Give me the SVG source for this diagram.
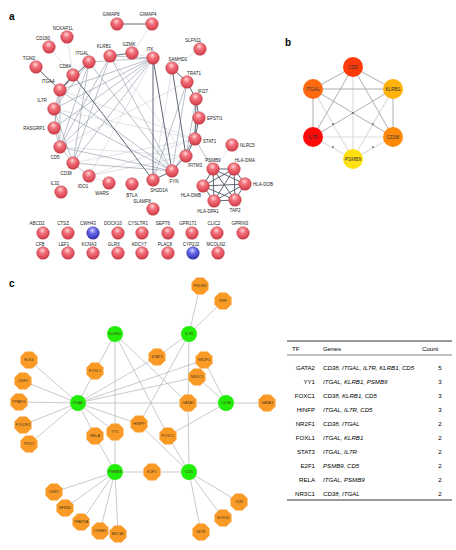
<svg xmlns="http://www.w3.org/2000/svg" xmlns:xlink="http://www.w3.org/1999/xlink" width="456" height="550" viewBox="0 0 456 550">
<style>
text{font-family:"Liberation Sans",Arial,sans-serif;}
.pl{font-size:10px;font-weight:bold;fill:#000;}
.la{font-size:4.5px;fill:#222;text-anchor:middle;}
.ls{font-size:4.5px;fill:#222;}
.ed{stroke:#4f5666;stroke-width:0.9;}
.em{stroke:#8d95a6;stroke-width:0.6;}
.el{stroke:#ccd0d8;stroke-width:0.6;}
.sp{fill:url(#gr);stroke:#b02a35;stroke-width:0.4;}
.sb{fill:url(#gb);stroke:#2a2a90;stroke-width:0.4;}
.bd{stroke:#9a9a9a;stroke-width:0.8;}
.bl{stroke:#dedede;stroke-width:1.2;}
.lb{font-size:4.8px;fill:#333;text-anchor:middle;}
.ce{stroke:#b3b3b3;stroke-width:0.7;}
.tf{fill:#f99a26;}
.gn{fill:#22ee0a;}
.lc{font-size:3.9px;fill:#4a3a1a;text-anchor:middle;}
.th{font-size:6.1px;fill:#000;}
.tg{font-size:6.1px;fill:#000;font-style:italic;}
.tt{font-size:6.1px;fill:#000;text-anchor:end;}
.tc{font-size:6.1px;fill:#000;text-anchor:middle;}
</style>
<defs>
<radialGradient id="gr" cx="0.45" cy="0.3" r="0.75">
<stop offset="0" stop-color="#ffd6d6"/>
<stop offset="0.35" stop-color="#f2707a"/>
<stop offset="1" stop-color="#cc3440"/>
</radialGradient>
<radialGradient id="gb" cx="0.45" cy="0.3" r="0.75">
<stop offset="0" stop-color="#d6d6ff"/>
<stop offset="0.35" stop-color="#6a6ae8"/>
<stop offset="1" stop-color="#2a2aa8"/>
</radialGradient>
<polygon id="oct" points="3.5,-8.5 8.5,-3.5 8.5,3.5 3.5,8.5 -3.5,8.5 -8.5,3.5 -8.5,-3.5 -3.5,-8.5"/>
</defs>
<rect width="456" height="550" fill="#fff"/>

<text class="pl" x="9" y="20">a</text>
<text class="pl" x="285" y="46">b</text>
<text class="pl" x="9" y="287">c</text>

<!-- Panel a connectors -->
<g id="edges-a">
<line class="el" x1="67" y1="37" x2="73" y2="75"/>
<line class="el" x1="49" y1="47" x2="73" y2="75"/>
<line class="el" x1="200" y1="49" x2="172" y2="68"/>
<line class="el" x1="232" y1="145" x2="213" y2="169"/>
<line class="el" x1="152" y1="24" x2="132" y2="53"/>
<line class="el" x1="89" y1="62" x2="73" y2="75"/>
<line class="el" x1="132" y1="53" x2="153" y2="58"/>
<line class="el" x1="89" y1="176" x2="195" y2="139"/>
<line class="el" x1="89" y1="176" x2="186" y2="156"/>
<line class="el" x1="89" y1="176" x2="109" y2="183"/>
<line class="el" x1="54" y1="109" x2="195" y2="139"/>
<line class="el" x1="73" y1="163" x2="195" y2="139"/>
<line class="el" x1="60" y1="147" x2="186" y2="156"/>
<line class="el" x1="110" y1="56" x2="186" y2="156"/>
<line class="el" x1="187" y1="82" x2="60" y2="147"/>
<line class="el" x1="153" y1="58" x2="89" y2="176"/>
<line class="el" x1="60" y1="90" x2="195" y2="139"/>
<line class="el" x1="172" y1="68" x2="153" y2="180"/>
<line class="em" x1="153" y1="58" x2="110" y2="56"/>
<line class="em" x1="153" y1="58" x2="89" y2="62"/>
<line class="em" x1="153" y1="58" x2="60" y2="90"/>
<line class="em" x1="153" y1="58" x2="54" y2="109"/>
<line class="em" x1="153" y1="58" x2="54" y2="128"/>
<line class="em" x1="153" y1="58" x2="60" y2="147"/>
<line class="em" x1="153" y1="58" x2="73" y2="163"/>
<line class="em" x1="172" y1="171" x2="60" y2="90"/>
<line class="em" x1="172" y1="171" x2="54" y2="109"/>
<line class="em" x1="172" y1="171" x2="60" y2="147"/>
<line class="em" x1="172" y1="171" x2="73" y2="163"/>
<line class="em" x1="172" y1="171" x2="89" y2="62"/>
<line class="em" x1="172" y1="171" x2="110" y2="56"/>
<line class="em" x1="187" y1="82" x2="172" y2="171"/>
<line class="em" x1="187" y1="82" x2="153" y2="180"/>
<line class="em" x1="195" y1="139" x2="213" y2="169"/>
<line class="em" x1="195" y1="139" x2="172" y2="171"/>
<line class="em" x1="196" y1="99" x2="186" y2="156"/>
<line class="em" x1="199" y1="118" x2="186" y2="156"/>
<line class="em" x1="110" y1="56" x2="60" y2="147"/>
<line class="em" x1="110" y1="56" x2="73" y2="163"/>
<line class="em" x1="89" y1="62" x2="60" y2="147"/>
<line class="em" x1="89" y1="62" x2="54" y2="109"/>
<line class="em" x1="89" y1="62" x2="73" y2="163"/>
<line class="em" x1="60" y1="90" x2="54" y2="109"/>
<line class="em" x1="60" y1="90" x2="60" y2="147"/>
<line class="em" x1="60" y1="90" x2="54" y2="128"/>
<line class="em" x1="54" y1="109" x2="60" y2="147"/>
<line class="em" x1="54" y1="109" x2="73" y2="163"/>
<line class="em" x1="54" y1="128" x2="60" y2="147"/>
<line class="em" x1="60" y1="147" x2="73" y2="163"/>
<line class="em" x1="73" y1="163" x2="89" y2="176"/>
<line class="ed" x1="117" y1="24" x2="152" y2="24"/>
<line class="ed" x1="110" y1="56" x2="132" y2="53"/>
<line class="ed" x1="36" y1="67" x2="60" y2="90"/>
<line class="ed" x1="60" y1="90" x2="73" y2="75"/>
<line class="ed" x1="60" y1="90" x2="89" y2="62"/>
<line class="ed" x1="153" y1="58" x2="153" y2="180"/>
<line class="ed" x1="153" y1="58" x2="172" y2="171"/>
<line class="ed" x1="172" y1="68" x2="186" y2="156"/>
<line class="ed" x1="172" y1="68" x2="187" y2="82"/>
<line class="ed" x1="187" y1="82" x2="196" y2="99"/>
<line class="ed" x1="196" y1="99" x2="199" y2="118"/>
<line class="ed" x1="196" y1="99" x2="195" y2="139"/>
<line class="ed" x1="199" y1="118" x2="195" y2="139"/>
<line class="ed" x1="195" y1="139" x2="186" y2="156"/>
<line class="ed" x1="186" y1="156" x2="172" y2="171"/>
<line class="ed" x1="172" y1="171" x2="153" y2="180"/>
<line class="ed" x1="73" y1="75" x2="153" y2="180"/>
<line class="ed" x1="213" y1="169" x2="234" y2="169"/>
<line class="ed" x1="213" y1="169" x2="203" y2="186"/>
<line class="ed" x1="213" y1="169" x2="245" y2="184"/>
<line class="ed" x1="213" y1="169" x2="214" y2="201"/>
<line class="ed" x1="213" y1="169" x2="235" y2="200"/>
<line class="ed" x1="234" y1="169" x2="245" y2="184"/>
<line class="ed" x1="234" y1="169" x2="203" y2="186"/>
<line class="ed" x1="234" y1="169" x2="214" y2="201"/>
<line class="ed" x1="234" y1="169" x2="235" y2="200"/>
<line class="ed" x1="245" y1="184" x2="203" y2="186"/>
<line class="ed" x1="245" y1="184" x2="235" y2="200"/>
<line class="ed" x1="245" y1="184" x2="214" y2="201"/>
<line class="ed" x1="203" y1="186" x2="214" y2="201"/>
<line class="ed" x1="203" y1="186" x2="235" y2="200"/>
<line class="ed" x1="214" y1="201" x2="235" y2="200"/>
</g>

<!-- Panel a nodes -->
<g id="a-GIMAP8"><circle class="sp" cx="117" cy="24" r="6.3"/><text class="la" x="111" y="16">GIMAP8</text></g>
<g id="a-GIMAP4"><circle class="sp" cx="152" cy="24" r="6.3"/><text class="la" x="148" y="16">GIMAP4</text></g>
<g id="a-NCKAP1L"><circle class="sp" cx="67" cy="37" r="6.3"/><text class="la" x="63" y="29.5">NCKAP1L</text></g>
<g id="a-CD180"><circle class="sp" cx="49" cy="47" r="6.3"/><text class="la" x="43" y="39.5">CD180</text></g>
<g id="a-KLRB1"><circle class="sp" cx="110" cy="56" r="6.3"/><text class="la" x="104" y="48">KLRB1</text></g>
<g id="a-GZMK"><circle class="sp" cx="132" cy="53" r="6.3"/><text class="la" x="129" y="46">GZMK</text></g>
<g id="a-ITK"><circle class="sp" cx="153" cy="58" r="6.3"/><text class="la" x="150" y="51">ITK</text></g>
<g id="a-SLFN11"><circle class="sp" cx="200" cy="49" r="6.3"/><text class="la" x="193" y="42">SLFN11</text></g>
<g id="a-SAMHD1"><circle class="sp" cx="172" cy="68" r="6.3"/><text class="la" x="178" y="60.5">SAMHD1</text></g>
<g id="a-TRAT1"><circle class="sp" cx="187" cy="82" r="6.3"/><text class="la" x="194" y="75">TRAT1</text></g>
<g id="a-IFI27"><circle class="sp" cx="196" cy="99" r="6.3"/><text class="la" x="203" y="93">IFI27</text></g>
<g id="a-EPSTI1"><circle class="sp" cx="199" cy="118" r="6.3"/><text class="ls" x="207" y="120">EPSTI1</text></g>
<g id="a-ITGAL"><circle class="sp" cx="89" cy="62" r="6.3"/><text class="la" x="82" y="55">ITGAL</text></g>
<g id="a-TGM2"><circle class="sp" cx="36" cy="67" r="6.3"/><text class="la" x="29" y="59.5">TGM2</text></g>
<g id="a-CD84"><circle class="sp" cx="73" cy="75" r="6.3"/><text class="la" x="65" y="67.5">CD84</text></g>
<g id="a-ITGA4"><circle class="sp" cx="60" cy="90" r="6.3"/><text class="la" x="48" y="83">ITGA4</text></g>
<g id="a-IL7R"><circle class="sp" cx="54" cy="109" r="6.3"/><text class="la" x="42" y="101.5">IL7R</text></g>
<g id="a-RASGRP1"><circle class="sp" cx="54" cy="128" r="6.3"/><text class="la" x="34" y="130">RASGRP1</text></g>
<g id="a-CD5"><circle class="sp" cx="60" cy="147" r="6.3"/><text class="la" x="55" y="159">CD5</text></g>
<g id="a-CD38"><circle class="sp" cx="73" cy="163" r="6.3"/><text class="la" x="66" y="175">CD38</text></g>
<g id="a-IDO1"><circle class="sp" cx="89" cy="176" r="6.3"/><text class="la" x="83" y="188">IDO1</text></g>
<g id="a-IL32"><circle class="sp" cx="61" cy="192" r="6.3"/><text class="la" x="55" y="185">IL32</text></g>
<g id="a-WARS"><circle class="sp" cx="109" cy="183" r="6.3"/><text class="la" x="102" y="194.5">WARS</text></g>
<g id="a-BTLA"><circle class="sp" cx="132" cy="184" r="6.3"/><text class="la" x="132" y="196.5">BTLA</text></g>
<g id="a-STAT1"><circle class="sp" cx="195" cy="139" r="6.3"/><text class="ls" x="203" y="143">STAT1</text></g>
<g id="a-NLRC5"><circle class="sp" cx="232" cy="145" r="6.3"/><text class="ls" x="240" y="147">NLRC5</text></g>
<g id="a-IFITM3"><circle class="sp" cx="186" cy="156" r="6.3"/><text class="la" x="195" y="167">IFITM3</text></g>
<g id="a-FYN"><circle class="sp" cx="172" cy="171" r="6.3"/><text class="la" x="174" y="182.5">FYN</text></g>
<g id="a-SH2D1A"><circle class="sp" cx="153" cy="180" r="6.3"/><text class="la" x="159" y="192">SH2D1A</text></g>
<g id="a-SLAMF8"><circle class="sp" cx="153" cy="209" r="6.3"/><text class="la" x="142" y="203">SLAMF8</text></g>
<g id="a-PSMB9"><circle class="sp" cx="213" cy="169" r="6.3"/><text class="la" x="213" y="162">PSMB9</text></g>
<g id="a-HLA-DMA"><circle class="sp" cx="234" cy="169" r="6.3"/><text class="la" x="245" y="162">HLA-DMA</text></g>
<g id="a-HLA-DOB"><circle class="sp" cx="245" cy="184" r="6.3"/><text class="ls" x="253" y="186">HLA-DOB</text></g>
<g id="a-HLA-DMB"><circle class="sp" cx="203" cy="186" r="6.3"/><text class="la" x="191" y="197">HLA-DMB</text></g>
<g id="a-HLA-DPA1"><circle class="sp" cx="214" cy="201" r="6.3"/><text class="la" x="208" y="213">HLA-DPA1</text></g>
<g id="a-TAP2"><circle class="sp" cx="235" cy="200" r="6.3"/><text class="la" x="235" y="212">TAP2</text></g>

<g id="a-ABCD2"><circle class="sp" cx="43" cy="233" r="6.3"/><text class="la" x="37" y="224.5">ABCD2</text></g>
<g id="a-CTSZ"><circle class="sp" cx="68" cy="233" r="6.3"/><text class="la" x="63" y="224.5">CTSZ</text></g>
<g id="a-CWH43"><circle class="sb" cx="93" cy="233" r="6.3"/><text class="la" x="88" y="224.5">CWH43</text></g>
<g id="a-DOCK10"><circle class="sp" cx="118" cy="233" r="6.3"/><text class="la" x="113" y="224.5">DOCK10</text></g>
<g id="a-CYSLTR1"><circle class="sp" cx="142" cy="233" r="6.3"/><text class="la" x="138" y="224.5">CYSLTR1</text></g>
<g id="a-SEPT6"><circle class="sp" cx="168" cy="233" r="6.3"/><text class="la" x="163" y="224.5">SEPT6</text></g>
<g id="a-GPR171"><circle class="sp" cx="192" cy="233" r="6.3"/><text class="la" x="188" y="224.5">GPR171</text></g>
<g id="a-CLIC2"><circle class="sp" cx="217" cy="233" r="6.3"/><text class="la" x="214" y="224.5">CLIC2</text></g>
<g id="a-GPRIN3"><circle class="sp" cx="243" cy="233" r="6.3"/><text class="la" x="240" y="224.5">GPRIN3</text></g>
<g id="a-CFB"><circle class="sp" cx="43" cy="253" r="6.3"/><text class="la" x="40" y="246">CFB</text></g>
<g id="a-LEF1"><circle class="sp" cx="68" cy="253" r="6.3"/><text class="la" x="64" y="246">LEF1</text></g>
<g id="a-KCNA3"><circle class="sp" cx="93" cy="253" r="6.3"/><text class="la" x="89" y="246">KCNA3</text></g>
<g id="a-GLRX"><circle class="sp" cx="118" cy="253" r="6.3"/><text class="la" x="114" y="246">GLRX</text></g>
<g id="a-ADCY7"><circle class="sp" cx="142" cy="253" r="6.3"/><text class="la" x="139" y="246">ADCY7</text></g>
<g id="a-PLAC8"><circle class="sp" cx="168" cy="253" r="6.3"/><text class="la" x="165" y="246">PLAC8</text></g>
<g id="a-CYP2J2"><circle class="sb" cx="193" cy="253" r="6.3"/><text class="la" x="191" y="246">CYP2J2</text></g>
<g id="a-MCOLN2"><circle class="sp" cx="218" cy="253" r="6.3"/><text class="la" x="216" y="246">MCOLN2</text></g>

<!-- Panel b connectors -->
<g id="edges-b">
<line class="bl" x1="353" y1="67" x2="353" y2="159"/>
<line class="bl" x1="313" y1="137" x2="393" y2="137"/>
<line class="bl" x1="313" y1="89" x2="353" y2="159"/>
<line class="bl" x1="393" y1="89" x2="353" y2="159"/>
<line class="bl" x1="313" y1="137" x2="353" y2="159"/>
<line class="bl" x1="393" y1="137" x2="353" y2="159"/>
<line class="bd" x1="353" y1="67" x2="313" y2="89"/>
<line class="bd" x1="353" y1="67" x2="393" y2="89"/>
<line class="bd" x1="353" y1="67" x2="313" y2="137"/>
<line class="bd" x1="353" y1="67" x2="393" y2="137"/>
<line class="bd" x1="313" y1="89" x2="393" y2="89"/>
<line class="bd" x1="313" y1="89" x2="313" y2="137"/>
<line class="bd" x1="393" y1="89" x2="393" y2="137"/>
<line class="bd" x1="313" y1="89" x2="393" y2="137"/>
<line class="bd" x1="393" y1="89" x2="313" y2="137"/>
<circle cx="353" cy="113" r="0.9" fill="#666"/>
<circle cx="333" cy="124" r="0.9" fill="#666"/>
<circle cx="373" cy="124" r="0.9" fill="#666"/>
<circle cx="333" cy="147" r="0.9" fill="#666"/>
<circle cx="373" cy="147" r="0.9" fill="#666"/>
</g>
<g id="b-CD5"><circle cx="353" cy="67" r="10" fill="#ff3a0a"/><text class="lb" x="353" y="68.7">CD5</text></g>
<g id="b-ITGAL"><circle cx="313" cy="89" r="10" fill="#ff6a10"/><text class="lb" x="313" y="90.7">ITGAL</text></g>
<g id="b-KLRB1"><circle cx="393" cy="89" r="10" fill="#ffb20a"/><text class="lb" x="393" y="90.7">KLRB1</text></g>
<g id="b-IL7R"><circle cx="313" cy="137" r="10" fill="#ff0a0a"/><text class="lb" x="313" y="138.7">IL7R</text></g>
<g id="b-CD38"><circle cx="393" cy="137" r="10" fill="#ff8a0a"/><text class="lb" x="393" y="138.7">CD38</text></g>
<g id="b-PSMB9"><circle cx="353" cy="159" r="10" fill="#ffe010"/><text class="lb" x="353" y="160.7">PSMB9</text></g>

<!-- Panel c connectors -->
<g id="edges-c" class="ce">
<line x1="188" y1="403" x2="226" y2="403"/>
<line x1="188" y1="403" x2="78" y2="403"/>
<line x1="188" y1="403" x2="189" y2="334"/>
<line x1="188" y1="403" x2="115" y2="334"/>
<line x1="188" y1="403" x2="189" y2="472"/>
<line x1="115" y1="432" x2="78" y2="403"/>
<line x1="115" y1="432" x2="115" y2="334"/>
<line x1="115" y1="432" x2="115" y2="472"/>
<line x1="168" y1="436" x2="226" y2="403"/>
<line x1="168" y1="436" x2="115" y2="334"/>
<line x1="168" y1="436" x2="189" y2="472"/>
<line x1="139" y1="424" x2="78" y2="403"/>
<line x1="139" y1="424" x2="189" y2="334"/>
<line x1="139" y1="424" x2="189" y2="472"/>
<line x1="204" y1="360" x2="226" y2="403"/>
<line x1="204" y1="360" x2="78" y2="403"/>
<line x1="95" y1="371" x2="78" y2="403"/>
<line x1="95" y1="371" x2="115" y2="334"/>
<line x1="157" y1="357" x2="78" y2="403"/>
<line x1="157" y1="357" x2="189" y2="334"/>
<line x1="152" y1="472" x2="115" y2="472"/>
<line x1="152" y1="472" x2="189" y2="472"/>
<line x1="95" y1="436" x2="78" y2="403"/>
<line x1="95" y1="436" x2="115" y2="472"/>
<line x1="197" y1="377" x2="226" y2="403"/>
<line x1="197" y1="377" x2="78" y2="403"/>
<line x1="200" y1="286" x2="189" y2="334"/>
<line x1="223" y1="301" x2="189" y2="334"/>
<line x1="267" y1="403" x2="226" y2="403"/>
<line x1="29" y1="360" x2="78" y2="403"/>
<line x1="23" y1="381" x2="78" y2="403"/>
<line x1="19" y1="402" x2="78" y2="403"/>
<line x1="23" y1="425" x2="78" y2="403"/>
<line x1="29" y1="444" x2="78" y2="403"/>
<line x1="54" y1="492" x2="115" y2="472"/>
<line x1="65" y1="508" x2="115" y2="472"/>
<line x1="81" y1="522" x2="115" y2="472"/>
<line x1="100" y1="531" x2="115" y2="472"/>
<line x1="118" y1="534" x2="115" y2="472"/>
<line x1="239" y1="502" x2="189" y2="472"/>
<line x1="223" y1="518" x2="189" y2="472"/>
<line x1="201" y1="532" x2="189" y2="472"/>
</g>

<!-- Panel c nodes -->
<g id="c-KLRB1"><circle class="gn" cx="115" cy="334" r="8"/><text class="lc" x="115" y="335.4">KLRB1</text></g>
<g id="c-ITGAL"><circle class="gn" cx="78" cy="403" r="8"/><text class="lc" x="78" y="404.4">ITGAL</text></g>
<g id="c-IL7R"><circle class="gn" cx="189" cy="334" r="8"/><text class="lc" x="189" y="335.4">IL7R</text></g>
<g id="c-CD38"><circle class="gn" cx="226" cy="403" r="8"/><text class="lc" x="226" y="404.4">CD38</text></g>
<g id="c-PSMB9"><circle class="gn" cx="115" cy="472" r="8"/><text class="lc" x="115" y="473.4">PSMB9</text></g>
<g id="c-CD5"><circle class="gn" cx="189" cy="472" r="8"/><text class="lc" x="189" y="473.4">CD5</text></g>

<g id="c-PRDM1" transform="translate(200,286)"><use href="#oct" class="tf"/><text class="lc" y="1.4">PRDM1</text></g>
<g id="c-SRF" transform="translate(223,301)"><use href="#oct" class="tf"/><text class="lc" y="1.4">SRF</text></g>
<g id="c-STAT3" transform="translate(157,357)"><use href="#oct" class="tf"/><text class="lc" y="1.4">STAT3</text></g>
<g id="c-NR2F1" transform="translate(204,360)"><use href="#oct" class="tf"/><text class="lc" y="1.4">NR2F1</text></g>
<g id="c-NR3C1" transform="translate(197,377)"><use href="#oct" class="tf"/><text class="lc" y="1.4">NR3C1</text></g>
<g id="c-GATA2" transform="translate(188,403)"><use href="#oct" class="tf"/><text class="lc" y="1.4">GATA2</text></g>
<g id="c-GATA3" transform="translate(267,403)"><use href="#oct" class="tf"/><text class="lc" y="1.4">GATA3</text></g>
<g id="c-FOXL1" transform="translate(95,371)"><use href="#oct" class="tf"/><text class="lc" y="1.4">FOXL1</text></g>
<g id="c-ELK4" transform="translate(29,360)"><use href="#oct" class="tf"/><text class="lc" y="1.4">ELK4</text></g>
<g id="c-USF2" transform="translate(23,381)"><use href="#oct" class="tf"/><text class="lc" y="1.4">USF2</text></g>
<g id="c-PPARG" transform="translate(19,402)"><use href="#oct" class="tf"/><text class="lc" y="1.4">PPARG</text></g>
<g id="c-POU2F2" transform="translate(23,425)"><use href="#oct" class="tf"/><text class="lc" y="1.4">POU2F2</text></g>
<g id="c-PDX1" transform="translate(29,444)"><use href="#oct" class="tf"/><text class="lc" y="1.4">PDX1</text></g>
<g id="c-RELA" transform="translate(95,436)"><use href="#oct" class="tf"/><text class="lc" y="1.4">RELA</text></g>
<g id="c-YY1" transform="translate(115,432)"><use href="#oct" class="tf"/><text class="lc" y="1.4">YY1</text></g>
<g id="c-HINFP" transform="translate(139,424)"><use href="#oct" class="tf"/><text class="lc" y="1.4">HINFP</text></g>
<g id="c-FOXC1" transform="translate(168,436)"><use href="#oct" class="tf"/><text class="lc" y="1.4">FOXC1</text></g>
<g id="c-E2F1" transform="translate(152,472)"><use href="#oct" class="tf"/><text class="lc" y="1.4">E2F1</text></g>
<g id="c-USF1" transform="translate(54,492)"><use href="#oct" class="tf"/><text class="lc" y="1.4">USF1</text></g>
<g id="c-NFKB1" transform="translate(65,508)"><use href="#oct" class="tf"/><text class="lc" y="1.4">NFKB1</text></g>
<g id="c-TFAP2A" transform="translate(81,522)"><use href="#oct" class="tf"/><text class="lc" y="1.4">TFAP2A</text></g>
<g id="c-CREB1" transform="translate(100,531)"><use href="#oct" class="tf"/><text class="lc" y="1.4">CREB1</text></g>
<g id="c-BRCA1" transform="translate(118,534)"><use href="#oct" class="tf"/><text class="lc" y="1.4">BRCA1</text></g>
<g id="c-JUN" transform="translate(239,502)"><use href="#oct" class="tf"/><text class="lc" y="1.4">JUN</text></g>
<g id="c-SOX10" transform="translate(223,518)"><use href="#oct" class="tf"/><text class="lc" y="1.4">SOX10</text></g>
<g id="c-MYB" transform="translate(201,532)"><use href="#oct" class="tf"/><text class="lc" y="1.4">MYB</text></g>

<!-- Table -->
<g id="table">
<line x1="287" y1="341" x2="452" y2="341" stroke="#000" stroke-width="0.8"/>
<line x1="287" y1="355" x2="452" y2="355" stroke="#000" stroke-width="0.5"/>
<line x1="287" y1="500" x2="452" y2="500" stroke="#000" stroke-width="0.8"/>
<text class="th" x="292" y="351">TF</text>
<text class="th" x="323" y="351">Genes</text>
<text class="th" x="422" y="351">Count</text>
<text class="tt" x="315" y="370">GATA2</text><text class="tg" x="323" y="370">CD38, ITGAL, IL7R, KLRB1, CD5</text><text class="tc" x="440" y="370">5</text>
<text class="tt" x="315" y="384">YY1</text><text class="tg" x="323" y="384">ITGAL, KLRB1, PSMB9</text><text class="tc" x="440" y="384">3</text>
<text class="tt" x="315" y="398">FOXC1</text><text class="tg" x="323" y="398">CD38, KLRB1, CD5</text><text class="tc" x="440" y="398">3</text>
<text class="tt" x="315" y="412">HINFP</text><text class="tg" x="323" y="412">ITGAL, IL7R, CD5</text><text class="tc" x="440" y="412">3</text>
<text class="tt" x="315" y="426">NR2F1</text><text class="tg" x="323" y="426">CD38, ITGAL</text><text class="tc" x="440" y="426">2</text>
<text class="tt" x="315" y="440">FOXL1</text><text class="tg" x="323" y="440">ITGAL, KLRB1</text><text class="tc" x="440" y="440">2</text>
<text class="tt" x="315" y="454">STAT3</text><text class="tg" x="323" y="454">ITGAL, IL7R</text><text class="tc" x="440" y="454">2</text>
<text class="tt" x="315" y="468">E2F1</text><text class="tg" x="323" y="468">PSMB9, CD5</text><text class="tc" x="440" y="468">2</text>
<text class="tt" x="315" y="482">RELA</text><text class="tg" x="323" y="482">ITGAL, PSMB9</text><text class="tc" x="440" y="482">2</text>
<text class="tt" x="315" y="496">NR3C1</text><text class="tg" x="323" y="496">CD38, ITGAL</text><text class="tc" x="440" y="496">2</text>
</g>
</svg>
